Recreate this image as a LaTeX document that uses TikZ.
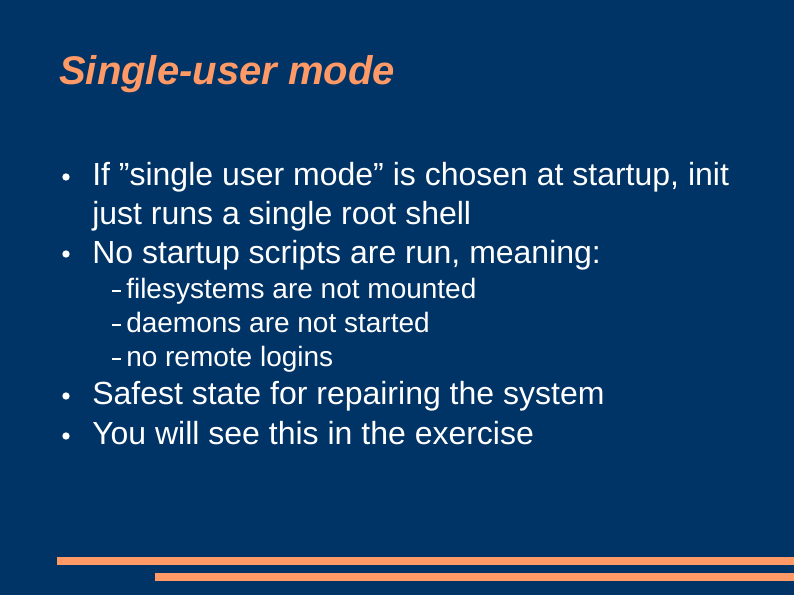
\documentclass[tikz,border=0pt]{standalone}
\usepackage{fontspec}
\setmainfont{Liberation Sans}
\definecolor{bg}{RGB}{0,51,102}
\definecolor{accent}{RGB}{255,153,102}
\begin{document}
\begin{tikzpicture}[x=0.75pt,y=-0.75pt,
  body/.style={anchor=base west,inner sep=0pt,text=white,font=\fontsize{24}{28}\selectfont},
  sub/.style={anchor=base west,inner sep=0pt,text=white,font=\fontsize{21}{25}\selectfont},
  dot/.style={circle,fill=white,inner sep=0pt,minimum size=5.5pt},
  dashmark/.style={white,line width=0.8pt}]
\fill[bg] (0,0) rectangle (794,595);
\useasboundingbox (0,0) rectangle (794,595);
\node[anchor=base west,inner sep=0pt,text=accent,font=\fontsize{30}{34}\selectfont\bfseries\itshape] (title) at (59,85) {Single-user mode};
\node[body] (l1) at (92,186) {If \symbol{34}single user mode\symbol{34} is chosen at startup, init};
\node[body] (l1b) at (92,225) {just runs a single root shell};
\node[body] (l2) at (92,264) {No startup scripts are run, meaning:};
\node[sub] (s1) at (126,299) {filesystems are not mounted};
\node[sub] (s2) at (126,333) {daemons are not started};
\node[sub] (s3) at (126,367) {no remote logins};
\node[body] (l3) at (92,405) {Safest state for repairing the system};
\node[body] (l4) at (92,445) {You will see this in the exercise};
\foreach \y in {177,254,396,436} \node[dot] at (66,\y) {};
\foreach \y in {291,325,359} \draw[dashmark] (112,\y) -- (121,\y);
\fill[accent] (57,557) rectangle (794,565);
\fill[accent] (155,573) rectangle (794,581);
\end{tikzpicture}
\end{document}
